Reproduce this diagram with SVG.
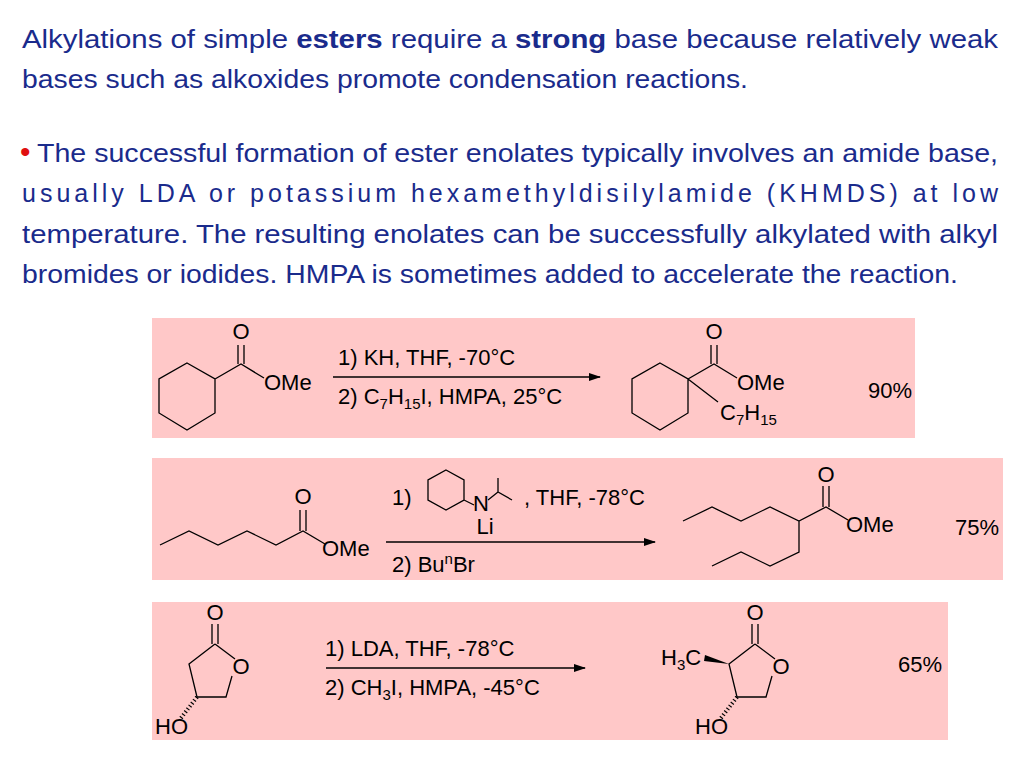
<svg xmlns="http://www.w3.org/2000/svg" width="1024" height="768" viewBox="0 0 1024 768">
<defs>
<marker id="ah" markerWidth="12" markerHeight="8" refX="11" refY="4" orient="auto" markerUnits="userSpaceOnUse"><path d="M0,0 L12,4 L0,8 z" fill="#000"/></marker>
<style>
.t{font-family:"Liberation Sans",Arial,sans-serif;font-size:25px;fill:#1a2b8c}
.c{font-family:"Liberation Sans",Arial,sans-serif;font-size:22px;fill:#000}
.b{fill:none;stroke:#000;stroke-width:1.3}
.box{fill:#ffc8c8}
.ar{stroke:#000;stroke-width:1.3;marker-end:url(#ah)}
</style>
</defs>
<rect width="1024" height="768" fill="#fff"/>
<text class="t" x="22" y="48" textLength="976" lengthAdjust="spacingAndGlyphs">Alkylations of simple <tspan font-weight="bold">esters</tspan> require a <tspan font-weight="bold">strong</tspan> base because relatively weak</text>
<text class="t" x="22" y="88" textLength="726" lengthAdjust="spacingAndGlyphs">bases such as alkoxides promote condensation reactions.</text>
<text x="20" y="162" font-family="Liberation Sans,Arial,sans-serif" font-size="30" fill="#e01010">•</text>
<text class="t" x="37" y="162" textLength="961" lengthAdjust="spacingAndGlyphs">The successful formation of ester enolates typically involves an amide base,</text>
<text class="t" x="22" y="202" textLength="976" lengthAdjust="spacing">usually LDA or potassium hexamethyldisilylamide (KHMDS) at low</text>
<text class="t" x="22" y="243" textLength="976" lengthAdjust="spacingAndGlyphs">temperature. The resulting enolates can be successfully alkylated with alkyl</text>
<text class="t" x="22" y="283" textLength="936" lengthAdjust="spacingAndGlyphs">bromides or iodides. HMPA is sometimes added to accelerate the reaction.</text>

<g id="reaction1">
<rect class="box" x="152" y="318" width="763" height="120"/>
<path class="b" d="M187,363 L215,379 L215,413 L187,430 L159,413 L159,379 Z M215,379 L241,364 L264,378 M238,364 L238,345 M244,364 L244,345"/>
<text class="c" x="241" y="339" text-anchor="middle">O</text>
<text class="c" x="264" y="390">OMe</text>
<line class="ar" x1="333" y1="377" x2="600" y2="377"/>
<text class="c" x="338" y="365">1) KH, THF, -70°C</text>
<text class="c" x="338" y="404">2) C<tspan font-size="15" dy="5">7</tspan><tspan dy="-5">H</tspan><tspan font-size="15" dy="5">15</tspan><tspan dy="-5">I, HMPA, 25°C</tspan></text>
<path class="b" d="M660,363 L688,379 L688,413 L660,430 L632,413 L632,379 Z M688,379 L714,364 L737,378 M711,364 L711,345 M717,364 L717,345 M688,379 L718,402"/>
<text class="c" x="714" y="339" text-anchor="middle">O</text>
<text class="c" x="737" y="390">OMe</text>
<text class="c" x="720" y="420">C<tspan font-size="15" dy="5">7</tspan><tspan dy="-5">H</tspan><tspan font-size="15" dy="5">15</tspan></text>
<text class="c" x="868" y="398">90%</text>
</g>

<g id="reaction2">
<rect class="box" x="152" y="458" width="851" height="122"/>
<path class="b" d="M160,545 L189,531 L218,545 L247,531 L276,545 L303,531 L325,544 M300,531 L300,510 M306,531 L306,510"/>
<text class="c" x="303" y="504" text-anchor="middle">O</text>
<text class="c" x="322" y="556">OMe</text>
<text class="c" x="392" y="505">1)</text>
<path class="b" d="M446,470 L464,480 L464,500 L446,510 L428,500 L428,480 Z M464,500 L474,505 M488,500 L498,492 L512,500 M498,492 L498,478"/>
<text class="c" x="481" y="511" text-anchor="middle">N</text>
<text class="c" x="485" y="534" text-anchor="middle">Li</text>
<text class="c" x="524" y="505">, THF, -78°C</text>
<line class="ar" x1="386" y1="542" x2="655" y2="542"/>
<text class="c" x="392" y="572">2) Bu<tspan font-size="15" dy="-8">n</tspan><tspan dy="8">Br</tspan></text>
<path class="b" d="M683,521 L712,507 L741,521 L770,507 L799,521 L826,507 L848,520 M823,507 L823,486 M829,507 L829,486 M799,521 L799,552 L770,566 L741,552 L712,566"/>
<text class="c" x="826" y="482" text-anchor="middle">O</text>
<text class="c" x="846" y="532">OMe</text>
<text class="c" x="955" y="535">75%</text>
</g>

<g id="reaction3">
<rect class="box" x="152" y="602" width="796" height="138"/>
<path class="b" d="M215,644 L235,659 M232,676 L226,697 L197,697 L189,664 L215,644 M212,644 L212,624 M218,644 L218,624"/>
<path d="M197,697 L181,718" stroke="#000" stroke-width="4" stroke-dasharray="1.2,2.4" fill="none"/>
<text class="c" x="215" y="620" text-anchor="middle">O</text>
<text class="c" x="241" y="674" text-anchor="middle">O</text>
<text class="c" x="155" y="734">HO</text>
<line class="ar" x1="326" y1="668" x2="585" y2="668"/>
<text class="c" x="325" y="656">1) LDA, THF, -78°C</text>
<text class="c" x="325" y="695">2) CH<tspan font-size="15" dy="5">3</tspan><tspan dy="-5">I, HMPA, -45°C</tspan></text>
<path class="b" d="M755,644 L775,659 M772,676 L766,697 L737,697 L729,664 L755,644 M752,644 L752,624 M758,644 L758,624"/>
<path d="M729,664 L705,655 L704,661 Z" fill="#000"/>
<path d="M737,697 L721,718" stroke="#000" stroke-width="4" stroke-dasharray="1.2,2.4" fill="none"/>
<text class="c" x="755" y="620" text-anchor="middle">O</text>
<text class="c" x="781" y="674" text-anchor="middle">O</text>
<text class="c" x="661" y="665">H<tspan font-size="15" dy="5">3</tspan><tspan dy="-5">C</tspan></text>
<text class="c" x="695" y="734">HO</text>
<text class="c" x="898" y="672">65%</text>
</g>
</svg>
